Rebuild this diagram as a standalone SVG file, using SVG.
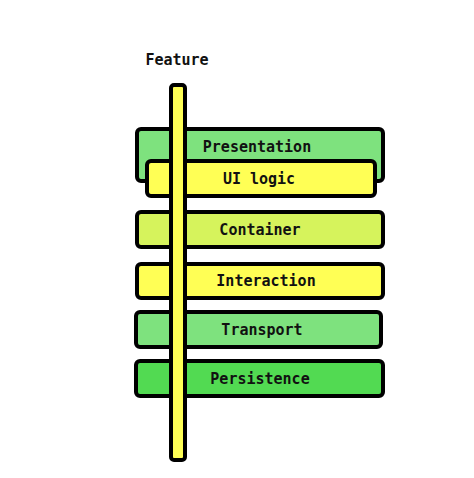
<svg xmlns="http://www.w3.org/2000/svg" width="474" height="478" viewBox="0 0 474 478">
<style>
.box{stroke:#000;stroke-width:4}
.t{font-family:"DejaVu Sans Mono","Liberation Mono",monospace;font-weight:bold;font-size:15px;fill:#111;text-anchor:middle}
</style>
<rect width="474" height="478" fill="#fff"/>
<g id="presentation"><rect class="box" x="137" y="129" width="246" height="52" rx="4" fill="#7ee27e"/><text class="t" x="257" y="152">Presentation</text></g>
<g id="uilogic"><rect class="box" x="147" y="161" width="228" height="35" rx="4" fill="#ffff55"/><text class="t" x="259" y="184">UI logic</text></g>
<g id="container"><rect class="box" x="137" y="212" width="246" height="35" rx="4" fill="#d6f35c"/><text class="t" x="260" y="235">Container</text></g>
<g id="interaction"><rect class="box" x="137" y="264" width="246" height="34" rx="4" fill="#ffff55"/><text class="t" x="266" y="286">Interaction</text></g>
<g id="transport"><rect class="box" x="136" y="312" width="245" height="35" rx="4" fill="#7ee27e"/><text class="t" x="262" y="335">Transport</text></g>
<g id="persistence"><rect class="box" x="136" y="361" width="247" height="35" rx="4" fill="#52da52"/><text class="t" x="260" y="384">Persistence</text></g>
<g id="feature"><rect class="box" x="171" y="85" width="14" height="375" rx="3" fill="#ffff55"/><text class="t" x="177" y="65" font-size="14.5">Feature</text></g>
</svg>
